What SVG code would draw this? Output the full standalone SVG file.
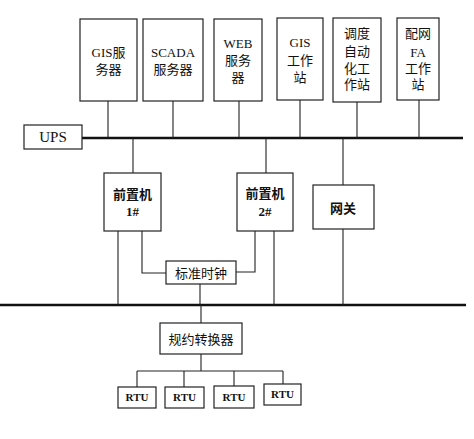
<svg xmlns="http://www.w3.org/2000/svg" width="474" height="439" viewBox="0 0 474 439">
<style>
.box{fill:#fff;stroke:#222;stroke-width:1.2}
.ln{fill:none;stroke:#222;stroke-width:1.1}
.bus{fill:none;stroke:#111;stroke-width:2.6}
text{font-family:"Liberation Serif","Noto Sans CJK SC",serif;font-size:13px;fill:#111;text-anchor:middle}
.b{font-weight:bold}
.rtu{font-size:11px;font-weight:bold}
</style>
<rect width="474" height="439" fill="#fff"/>
<g id="connectors">
<path class="bus" d="M82 138H463"/>
<path class="bus" d="M0 305H466"/>
<path class="ln" d="M108 101V138M173 101V138M239 101V138M300 100V138M357 102V138M419 100V138"/>
<path class="ln" d="M133 138V173M266 138V173M343 138V185"/>
<path class="ln" d="M118 231V305M142 231V273H166M200 284V305"/>
<path class="ln" d="M255 231V272H236M274 231V305M343 229V305"/>
<path class="ln" d="M201 305V323M201 354V371M137 371H283M137 371V387M184 371V387M234 371V386M283 371V384"/>
</g>
<g id="ups"><rect class="box" x="24" y="125" width="58" height="24"/><text x="53" y="142" style="font-size:15px">UPS</text></g>
<g id="gis-server"><rect class="box" x="80" y="19" width="57" height="82"/><text x="108.5" y="57">GIS服</text><text x="108.5" y="74">务器</text></g>
<g id="scada-server"><rect class="box" x="143" y="19" width="60" height="82"/><text x="173" y="57">SCADA</text><text x="173" y="74">服务器</text></g>
<g id="web-server"><rect class="box" x="214" y="19" width="48" height="82"/><text x="238" y="48">WEB</text><text x="238" y="65">服务</text><text x="238" y="82">器</text></g>
<g id="gis-ws"><rect class="box" x="277" y="18" width="46" height="82"/><text x="300" y="47">GIS</text><text x="300" y="65">工作</text><text x="300" y="82">站</text></g>
<g id="dispatch-ws"><rect class="box" x="333" y="18" width="48" height="84"/><text x="357" y="38">调度</text><text x="357" y="56">自动</text><text x="357" y="73">化工</text><text x="357" y="89">作站</text></g>
<g id="fa-ws"><rect class="box" x="397" y="18" width="42" height="82"/><text x="418" y="38">配网</text><text x="418" y="57">FA</text><text x="418" y="73">工作</text><text x="418" y="89">站</text></g>
<g id="fep1"><rect class="box" x="104" y="173" width="57" height="58"/><text class="b" x="132.5" y="199">前置机</text><text class="b" x="132.5" y="216">1#</text></g>
<g id="fep2"><rect class="box" x="237" y="173" width="56" height="58"/><text class="b" x="265" y="198">前置机</text><text class="b" x="265" y="216">2#</text></g>
<g id="gateway"><rect class="box" x="313" y="185" width="61" height="44"/><text class="b" x="343" y="213">网关</text></g>
<g id="clock"><rect class="box" x="166" y="261" width="70" height="23"/><text x="201" y="278">标准时钟</text></g>
<g id="converter"><rect class="box" x="160" y="323" width="82" height="31"/><text x="201" y="344">规约转换器</text></g>
<g id="rtu1"><rect class="box" x="118" y="387" width="38" height="21"/><text class="rtu" x="137" y="401">RTU</text></g>
<g id="rtu2"><rect class="box" x="165" y="387" width="39" height="21"/><text class="rtu" x="184.5" y="401">RTU</text></g>
<g id="rtu3"><rect class="box" x="214" y="386" width="40" height="22"/><text class="rtu" x="234" y="401">RTU</text></g>
<g id="rtu4"><rect class="box" x="264" y="384" width="37" height="21"/><text class="rtu" x="282.5" y="398">RTU</text></g>
</svg>
